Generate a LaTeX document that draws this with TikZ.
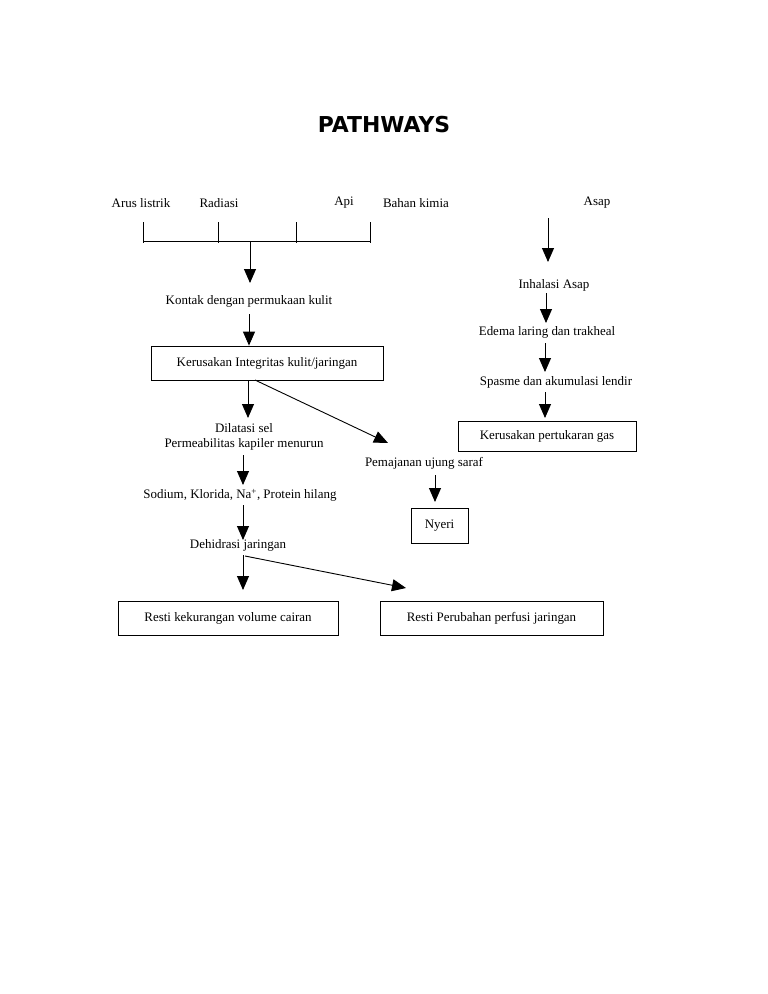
\documentclass[tikz,border=0pt]{standalone}
\usepackage{fontspec}
\setmainfont{Liberation Serif}
\newfontfamily\titlefont{DejaVu Sans}
\usetikzlibrary{arrows.meta}
\begin{document}
\begin{tikzpicture}[x=1bp,y=-1bp,
  lbl/.style={font=\fontsize{13}{15}\selectfont,inner sep=1bp},
  box/.style={draw,line width=0.8bp,font=\fontsize{13}{15}\selectfont,minimum height=34bp,inner sep=0pt},
  arr/.style={line width=0.9bp,-{Triangle[length=14bp,width=12bp]}},
  ln/.style={line width=0.8bp}]
\useasboundingbox (0,0) rectangle (768,994);
\node[font=\titlefont\bfseries\fontsize{22}{26}\selectfont] (title) at (384,125) {PATHWAYS};
\node[lbl] (arus) at (141,203) {Arus listrik};
\node[lbl] (rad) at (219,203) {Radiasi};
\node[lbl] (api) at (344,203) {Api};
\node[lbl] (kim) at (416,203) {Bahan kimia};
\node[lbl] (asap) at (597,203) {Asap};
\coordinate (b1) at (143,241); \coordinate (b4) at (370,241);
\draw[ln] (b1) -- (b4);
\foreach \x in {143,218,296,370} \draw[ln] (\x,222) -- (\x,243);
\coordinate (bm) at (250,241);
\node[lbl] (kontak) at (249,301) {Kontak dengan permukaan kulit};
\draw[arr] (bm) -- (250,283);
\node[box,minimum width=232bp] (kerus) at (267,363) {Kerusakan Integritas kulit/jaringan};
\draw[arr] (kontak.south -| 249,0) ++(0,6) -- (kerus.north -| 249,0);
\node[lbl,align=center] (dil) at (244,437) {Dilatasi sel\\Permeabilitas kapiler menurun};
\draw[arr] (kerus.south -| 248,0) -- (248,418);
\node[lbl] (pem) at (424,463) {Pemajanan ujung saraf};
\draw[arr] (255,380) -- (388,443);
\node[lbl] (sod) at (240,495) {Sodium, Klorida, Na\textsuperscript{+}, Protein hilang};
\draw[arr] (243,455) -- (243,485);
\node[lbl] (dehi) at (238,545) {Dehidrasi jaringan};
\draw[arr] (243,505) -- (243,540);
\node[box,minimum width=220bp] (resti1) at (228,618) {Resti kekurangan volume cairan};
\node[box,minimum width=223bp] (resti2) at (491.5,618) {Resti Perubahan perfusi jaringan};
\draw[arr] (243,555) -- (243,590);
\draw[arr] (245,556) -- (406,588);
\node[box,minimum width=57bp,minimum height=35bp] (nyeri) at (439.5,525.5) {Nyeri};
\draw[arr] (435,475) -- (435,502);
\node[lbl] (inh) at (554,285) {Inhalasi Asap};
\draw[arr] (548,218) -- (548,262);
\node[lbl] (edema) at (547,332) {Edema laring dan trakheal};
\draw[arr] (546,293) -- (546,323);
\node[lbl] (spas) at (556,382) {Spasme dan akumulasi lendir};
\draw[arr] (545,343) -- (545,372);
\node[box,minimum width=178bp,minimum height=30bp] (gas) at (547,436) {Kerusakan pertukaran gas};
\draw[arr] (545,392) -- (545,418);
\end{tikzpicture}
\end{document}
